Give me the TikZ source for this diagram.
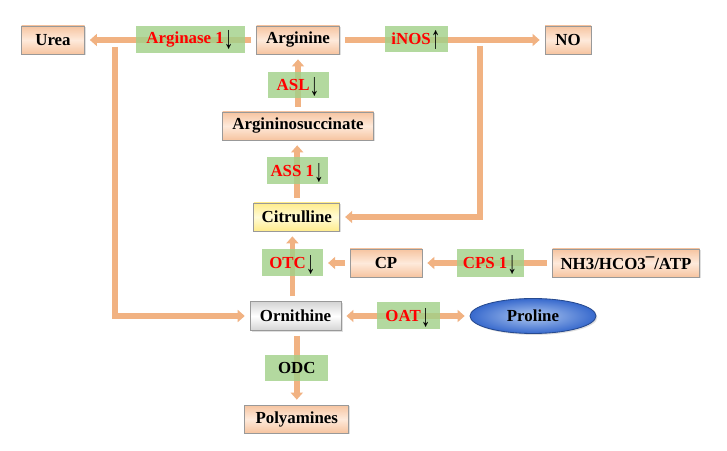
\documentclass[tikz,border=0pt]{standalone}
\usepackage{fontspec}
\setmainfont{Liberation Serif}
\usetikzlibrary{arrows.meta}
\usetikzlibrary{shapes.geometric}
\usetikzlibrary{backgrounds}
\usetikzlibrary{shadows}

\definecolor{flow}{RGB}{241,178,130}
\definecolor{enz}{RGB}{160,208,135}
\definecolor{peach}{RGB}{246,196,160}
\definecolor{peachmid}{RGB}{254,234,219}
\definecolor{citr}{RGB}{255,236,140}
\definecolor{citrmid}{RGB}{255,251,215}
\definecolor{orni}{RGB}{212,212,212}
\definecolor{prolin}{RGB}{55,105,205}
\definecolor{prolinmid}{RGB}{175,200,240}

\newcommand{\dnarrow}{\textcolor{black}{\smash{\raisebox{-0.6ex}{\scalebox{1.15}[1.9]{↓}}}}}
\newcommand{\uparrowsym}{\textcolor{black}{\smash{\raisebox{-0.5ex}{\scalebox{1.15}[1.9]{↑}}}}}

\begin{document}
\begin{tikzpicture}[
  metab/.style={draw=black!40, line width=0.6pt, top color=peach, bottom color=peach, middle color=peachmid,
    minimum height=0.7cm, inner sep=0pt, drop shadow={shadow xshift=1pt,shadow yshift=-1pt,opacity=0.25},
    font=\fontsize{12}{14}\selectfont\bfseries},
  enzyme/.style={fill=enz, fill opacity=0.8, text opacity=1, text=red, minimum height=0.675cm, inner sep=0pt,
    font=\fontsize{12}{14}\selectfont\bfseries},
  flowline/.style={draw=flow, line width=4pt, shorten <=3.5pt, shorten >=3.5pt},
  tip/.style={-{Triangle[length=5pt,width=8.5pt]}},
  tips/.style={{Triangle[length=5pt,width=8.5pt]}-{Triangle[length=5pt,width=8.5pt]}}
]
\useasboundingbox (0,0) rectangle (18.175,11.25);

\node[metab, minimum width=1.575cm] (urea) at (1.325,10.25) {Urea};
\node[metab, minimum width=2.075cm] (arginine) at (7.45,10.25) {Arginine};
\node[metab, minimum width=1.15cm] (no) at (14.2,10.25) {NO};
\node[metab, minimum width=3.775cm] (argsucc) at (7.45,8.1) {Argininosuccinate};
\node[metab, minimum width=2.15cm, top color=citr, bottom color=citr, middle color=citrmid] (citrulline) at (7.42,5.825) {Citrulline};
\node[metab, minimum width=1.8cm] (cp) at (9.65,4.675) {CP};
\node[metab, minimum width=3.675cm] (nh3) at (15.65,4.675) {NH3/HCO3¯/ATP};
\node[metab, minimum width=2.275cm, minimum height=0.725cm, top color=orni, bottom color=orni, middle color=white] (ornithine) at (7.39,3.35) {Ornithine};
\node[metab, ellipse, draw=prolin!70!black, minimum width=3.15cm, minimum height=0.875cm, inner color=prolinmid, outer color=prolin] (proline) at (13.325,3.35) {Proline};
\node[metab, minimum width=2.6cm] (polyamines) at (7.42,0.775) {Polyamines};

\node[enzyme, minimum width=2.725cm] (arginase) at (4.75,10.25) {Arginase 1\dnarrow};
\node[enzyme, minimum width=1.575cm, minimum height=0.65cm] (inos) at (10.4,10.275) {iNOS\uparrowsym};
\node[enzyme, minimum width=1.525cm, minimum height=0.65cm] (asl) at (7.45,9.125) {ASL\dnarrow};
\node[enzyme, minimum width=1.525cm] (ass) at (7.43,6.975) {ASS 1\dnarrow};
\node[enzyme, minimum width=1.525cm] (otc) at (7.31,4.675) {OTC\dnarrow};
\node[enzyme, minimum width=1.675cm, minimum height=0.7cm] (cps) at (12.25,4.675) {CPS 1\dnarrow};
\node[enzyme, minimum width=1.575cm] (oat) at (10.2,3.35) {OAT\dnarrow};
\node[enzyme, minimum width=1.575cm, minimum height=0.625cm, text=black] (odc) at (7.42,2.05) {ODC};

\coordinate (nobend) at (12,10.225);
\coordinate (ureabend) at (2.875,10.2);

\begin{scope}[on background layer]
\fill[white] (0,0) rectangle (18.175,11.25);
\draw[flowline,tip] (arginine) -- (urea);
\draw[flowline,tip] (arginine) -- (no);
\draw[flowline,tip] (argsucc.north -| arginine) -- (arginine.south);
\draw[flowline,tip] (citrulline.north -| ass) -- (argsucc.south -| ass);
\draw[flowline,tip] (ornithine.north -| otc) -- (citrulline.south -| otc);
\draw[flowline,tip] (cp) -- (otc);
\draw[flowline,tip] (nh3) -- (cp);
\draw[flowline,tips] (ornithine) -- (proline);
\draw[flowline,tip] (ornithine.south -| odc) -- (polyamines.north -| odc);
\draw[flowline,tip] (nobend) |- (citrulline);
\draw[flowline,tip] (ureabend) |- (ornithine);
\end{scope}
\end{tikzpicture}
\end{document}
